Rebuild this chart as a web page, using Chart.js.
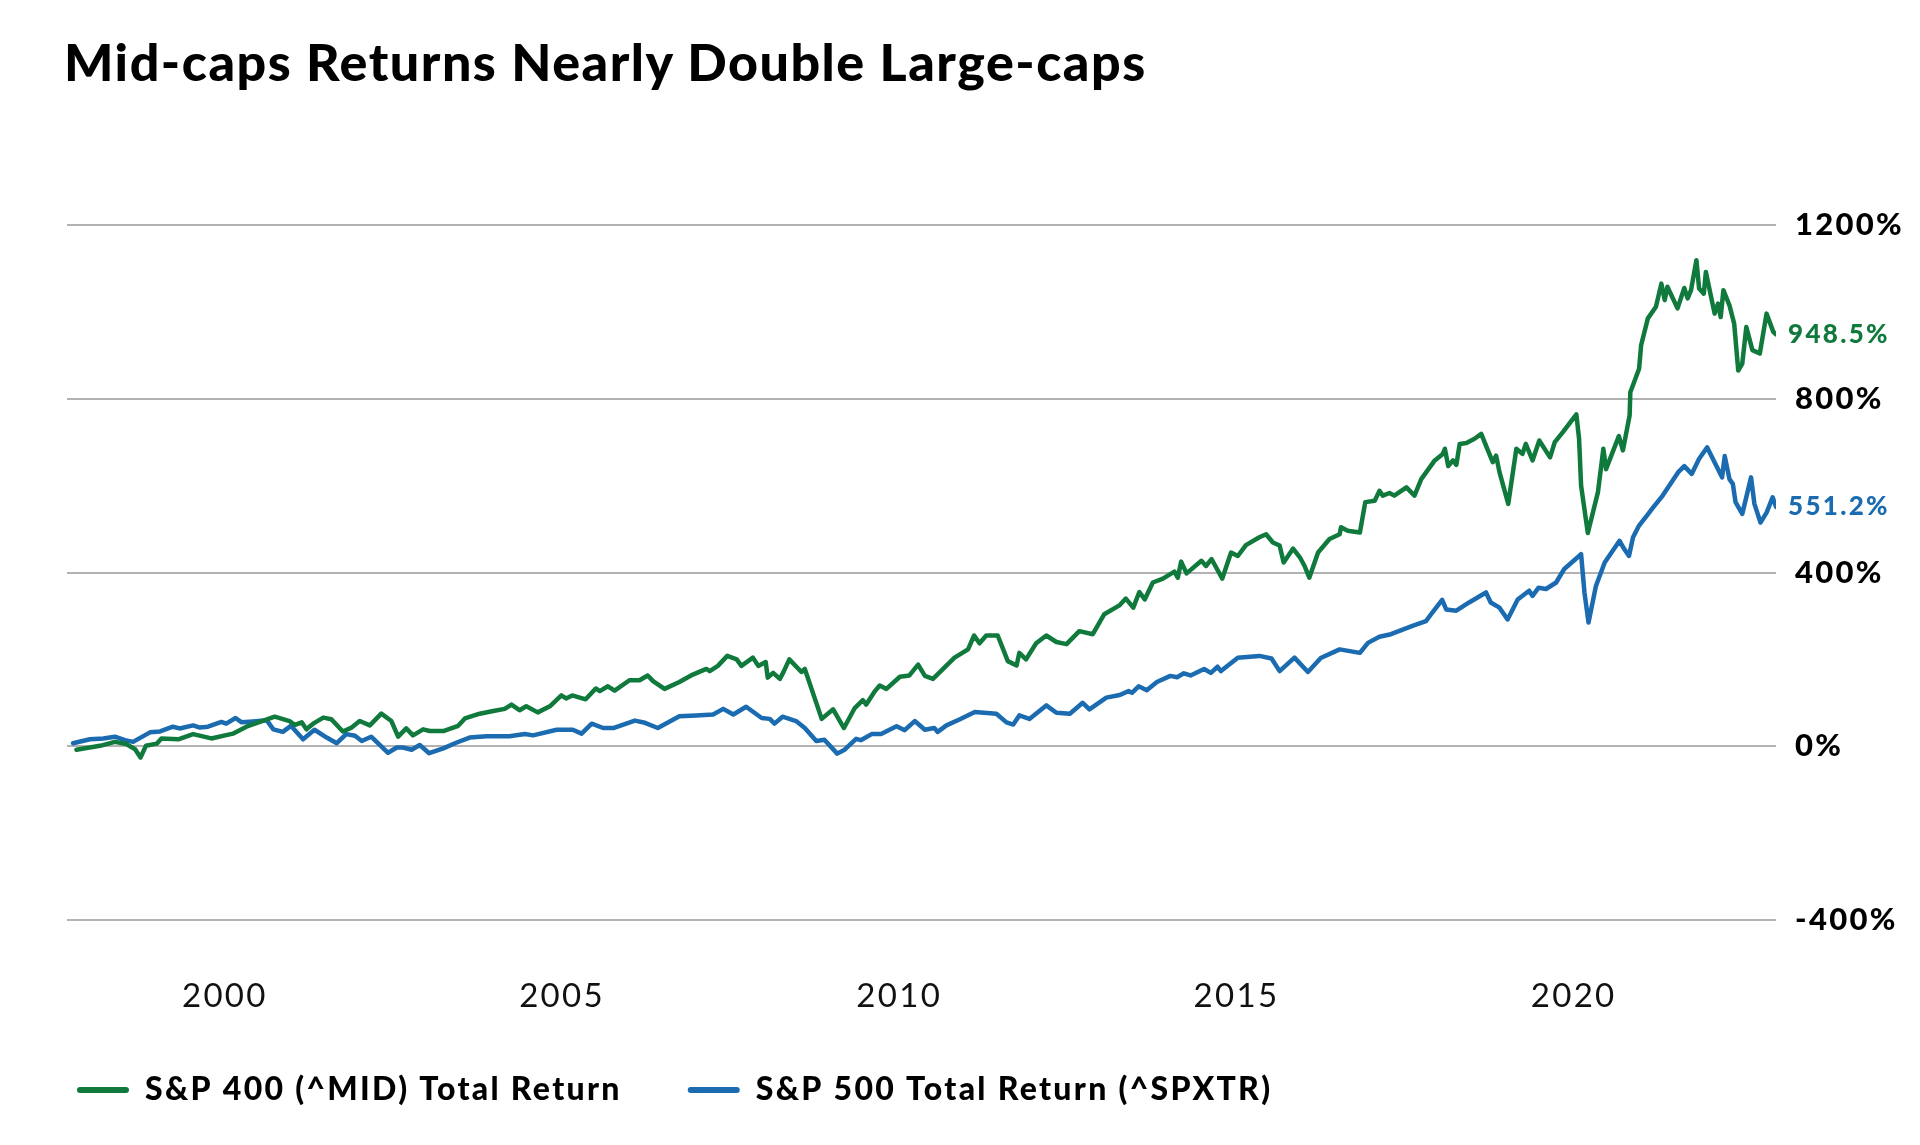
<!DOCTYPE html>
<html>
<head>
<meta charset="utf-8">
<script src="https://cdn.jsdelivr.net/npm/chart.js@4.4.1/dist/chart.umd.min.js"></script>
<style>
  html, body { margin: 0; padding: 0; background: #ffffff; }
  #wrap { position: relative; width: 1920px; height: 1145px; overflow: hidden; background: #fff; }
  #title { position: absolute; left: 64px; top: 35px; font-family: Lato, "Noto Sans", sans-serif; font-weight: 900; font-size: 52px; letter-spacing: 1.5px; line-height: 1; color: #000; white-space: nowrap; }
  #box { position: absolute; left: 0; top: 0; width: 1920px; height: 1145px; }
</style>
</head>
<body>
<div id="wrap">
  <div id="box"><canvas id="c"></canvas></div>
  <div id="title">Mid-caps Returns Nearly Double Large-caps</div>
</div>
<script>
// ---------- DATA ----------
const seriesLabels = ['S&P 400 (^MID) Total Return', 'S&P 500 Total Return (^SPXTR)'];
const yearTicks = [2000, 2005, 2010, 2015, 2020];
const percentTicks = [-400, 0, 400, 800, 1200];

const midDates = [1997.80,1998.15,1998.37,1998.54,1998.67,1998.75,1998.83,1998.99,1999.06,1999.31,1999.53,1999.80,
2000.12,2000.32,2000.52,2000.74,2000.96,2001.04,2001.14,2001.21,2001.31,2001.46,2001.58,2001.75,2001.88,
2002.00,2002.15,2002.32,2002.47,2002.57,2002.69,2002.79,2002.94,2003.04,2003.24,2003.46,2003.56,2003.78,2003.98,
2004.15,2004.25,2004.37,2004.47,2004.64,2004.82,2004.99,2005.06,2005.15,2005.35,2005.50,2005.56,2005.68,2005.78,
2006.00,2006.15,2006.27,2006.35,2006.52,2006.74,2006.94,2007.14,2007.19,2007.31,2007.45,2007.59,2007.66,2007.83,2007.91,
2008.02,2008.05,2008.13,2008.23,2008.29,2008.37,2008.55,2008.60,2008.85,2009.02,2009.18,2009.34,2009.46,2009.51,2009.64,2009.71,2009.81,
2010.01,2010.15,2010.28,2010.38,2010.50,2010.82,2011.02,2011.11,2011.19,2011.29,2011.46,2011.61,2011.74,2011.78,2011.88,
2012.03,2012.18,2012.33,2012.48,2012.67,2012.87,2013.04,2013.27,2013.36,2013.47,2013.56,2013.64,2013.76,2013.91,
2014.08,2014.13,2014.18,2014.26,2014.48,2014.55,2014.63,2014.79,2014.92,2015.02,2015.14,2015.34,2015.44,2015.54,2015.64,2015.70,2015.84,2015.94,
2016.01,2016.08,2016.21,2016.38,2016.53,2016.55,2016.65,2016.83,2016.91,2017.05,2017.12,2017.17,2017.27,2017.34,2017.52,2017.64,2017.74,2017.94,
2018.06,2018.09,2018.14,2018.21,2018.26,2018.31,2018.41,2018.53,2018.63,2018.70,2018.80,2018.85,2018.90,
2019.03,2019.15,2019.24,2019.29,2019.39,2019.49,2019.65,2019.72,2019.84,
2020.04,2020.08,2020.11,2020.21,2020.36,2020.44,2020.48,2020.67,2020.73,2020.83,2020.84,2020.97,
2021.00,2021.10,2021.22,2021.30,2021.35,2021.39,2021.54,2021.64,2021.69,2021.74,2021.82,2021.86,2021.93,2021.96,
2022.09,2022.14,2022.18,2022.22,2022.31,2022.38,2022.44,2022.50,2022.56,2022.65,2022.76,2022.86,2022.96,2023.00];
const midValues = [-8,1,10,5,-7,-26,1,6,18,16,28,18,
29,45,56,68,58,49,55,39,52,66,62,34,43,
58,48,75,58,22,41,25,39,35,35,47,64,75,81,
86,96,83,92,78,92,117,110,117,108,133,127,138,128,
152,152,163,150,132,148,165,178,173,185,208,200,185,204,185,
194,158,169,155,173,200,171,178,63,85,42,88,106,96,127,140,132,
160,163,188,162,155,204,223,255,237,255,255,196,186,215,200,
237,255,240,235,265,258,304,325,340,319,355,338,377,386,
402,388,425,398,427,415,431,386,446,438,463,481,488,469,462,423,455,435,
415,388,446,477,488,504,496,492,562,565,588,577,583,577,596,577,615,658,
673,685,645,658,648,696,698,708,719,692,654,669,631,
558,685,673,696,658,704,665,700,723,
764,708,600,491,585,685,638,714,681,762,815,869,
923,985,1012,1065,1027,1058,1008,1055,1031,1050,1119,1054,1042,1092,
996,1019,988,1050,1015,973,865,881,965,912,904,996,954,948.5];

const spxDates = [1997.75,1998.00,1998.20,1998.37,1998.52,1998.64,1998.89,1999.04,1999.23,1999.33,1999.53,1999.63,1999.75,1999.95,
2000.02,2000.16,2000.25,2000.42,2000.62,2000.72,2000.86,2000.98,2001.16,2001.33,2001.51,2001.66,2001.80,2001.93,
2002.03,2002.17,2002.42,2002.55,2002.64,2002.77,2002.89,2003.03,2003.24,2003.43,2003.63,2003.88,
2004.22,2004.45,2004.57,2004.92,2005.16,2005.29,2005.44,2005.61,2005.76,2006.08,2006.23,2006.42,2006.74,2006.99,
2007.24,2007.39,2007.54,2007.73,2007.96,2008.08,2008.15,2008.27,2008.47,2008.60,2008.77,2008.89,
2009.08,2009.19,2009.36,2009.43,2009.59,2009.73,2009.96,2010.08,2010.23,2010.38,2010.52,2010.57,2010.70,2010.90,
2011.12,2011.44,2011.59,2011.69,2011.78,2011.93,2012.18,2012.33,2012.53,2012.72,2012.82,
2013.07,2013.27,2013.40,2013.45,2013.55,2013.67,2013.82,2014.02,2014.12,2014.22,2014.32,2014.52,2014.62,2014.72,2014.77,
2015.02,2015.34,2015.52,2015.64,2015.86,2016.06,2016.25,2016.53,2016.68,2016.83,2016.95,
2017.12,2017.29,2017.61,2017.81,2017.91,2018.05,2018.11,2018.26,2018.45,2018.70,2018.77,2018.90,
2019.02,2019.17,2019.34,2019.39,2019.48,2019.59,2019.74,2019.86,
2020.11,2020.16,2020.22,2020.33,2020.46,2020.68,2020.75,2020.82,2020.88,2020.97,
2021.12,2021.17,2021.32,2021.55,2021.64,2021.75,2021.86,2021.98,
2022.20,2022.24,2022.31,2022.36,2022.40,2022.50,2022.63,2022.68,2022.77,2022.86,2022.95,2023.00];
const spxValues = [7,16,18,22,14,10,32,34,45,41,48,43,45,56,
52,65,55,57,60,39,33,47,16,38,20,7,28,24,
12,22,-15,-3,-3,-8,3,-16,-5,8,20,23,
23,28,25,38,38,29,52,42,42,59,54,42,69,71,
73,86,73,91,65,63,52,68,58,42,12,15,
-17,-8,17,14,28,28,46,37,58,38,42,33,48,62,
79,75,55,50,71,63,94,77,75,100,85,
112,118,127,123,138,129,148,162,159,168,163,178,169,183,173,
204,208,202,173,204,171,203,223,219,215,238,
252,258,277,288,309,337,315,312,331,354,331,319,
292,338,358,346,365,362,377,408,
442,354,285,369,423,473,454,438,481,508,
538,548,577,631,645,627,662,688,
619,668,615,604,562,535,619,558,515,538,573,551.2];

// ---------- STYLE ----------
const GREEN = '#10793c';
const BLUE = '#1b6bb0';
const FONT = 'Lato, "Noto Sans", sans-serif';
const SPACING = '2.3px';

const toPoints = (xs, ys) => xs.map((x, i) => ({ x: x, y: ys[i] }));

const spacingPlugin = {
  id: 'spacing',
  beforeUpdate(chart) { chart.ctx.letterSpacing = SPACING; },
  beforeLayout(chart) { chart.ctx.letterSpacing = SPACING; },
  beforeDraw(chart) { chart.ctx.letterSpacing = SPACING; }
};

const endLabelPlugin = {
  id: 'endLabels',
  afterDatasetsDraw(chart) {
    const { ctx, chartArea } = chart;
    chart.data.datasets.forEach((ds, i) => {
      const meta = chart.getDatasetMeta(i);
      const pt = meta.data[meta.data.length - 1];
      const last = ds.data[ds.data.length - 1].y;
      ctx.save();
      ctx.font = '900 26px ' + FONT;
      ctx.fillStyle = ds.borderColor;
      ctx.textAlign = 'left';
      ctx.textBaseline = 'middle';
      ctx.fillText(last.toFixed(1) + '%', chartArea.right + 12, pt.y);
      ctx.restore();
    });
  }
};

new Chart(document.getElementById('c'), {
  type: 'line',
  data: {
    datasets: [
      { label: seriesLabels[0], data: toPoints(midDates, midValues), xAxisID: 'x', yAxisID: 'y',
        borderColor: GREEN, backgroundColor: GREEN, borderWidth: 4.5, pointRadius: 0, tension: 0,
        borderJoinStyle: 'round', borderCapStyle: 'round', fill: false },
      { label: seriesLabels[1], data: toPoints(spxDates, spxValues), xAxisID: 'x', yAxisID: 'y',
        borderColor: BLUE, backgroundColor: BLUE, borderWidth: 4.5, pointRadius: 0, tension: 0,
        borderJoinStyle: 'round', borderCapStyle: 'round', fill: false }
    ]
  },
  options: {
    animation: false,
    responsive: true,
    maintainAspectRatio: false,
    devicePixelRatio: 1,
    layout: { padding: { left: 11, right: 0, top: 225, bottom: 29 } },
    plugins: {
      title: { display: false },
      tooltip: { enabled: false },
      legend: {
        position: 'bottom',
        align: 'start',
        labels: {
          boxWidth: 52, boxHeight: 6, padding: 66, color: '#000',
          font: { family: FONT, weight: '900', size: 32 },
          generateLabels(chart) {
            const items = Chart.defaults.plugins.legend.labels.generateLabels(chart);
            items.forEach(it => { it.lineWidth = 0; it.borderRadius = 3; });
            return items;
          },
          useBorderRadius: true, borderRadius: 3
        }
      }
    },
    scales: {
      x: {
        type: 'linear', min: 1997.66, max: 2023.0,
        afterBuildTicks(s) { s.ticks = yearTicks.map(v => ({ value: v })); },
        afterFit(s) { s.height = 88; },
        grid: { display: false, drawTicks: false },
        border: { display: false },
        ticks: { padding: 57, color: '#111', font: { family: FONT, size: 33 }, callback: v => String(v), maxRotation: 0, autoSkip: false }
      },
      y: {
        type: 'linear', position: 'right', min: -400, max: 1200,
        afterBuildTicks(s) { s.ticks = percentTicks.map(v => ({ value: v })); },
        afterFit(s) { s.width = 144; },
        grid: { color: '#b3b3b3', lineWidth: 2, drawTicks: false },
        border: { display: false },
        ticks: { padding: 19, color: '#000', font: { family: FONT, weight: '900', size: 31 }, callback: v => v + '%' }
      },
      yl: {
        type: 'linear', position: 'left', display: true,
        afterFit(s) { s.width = 56; },
        grid: { display: false, drawTicks: false },
        border: { display: false },
        ticks: { display: false }
      }
    }
  },
  plugins: [spacingPlugin, endLabelPlugin]
});
</script>
</body>
</html>
